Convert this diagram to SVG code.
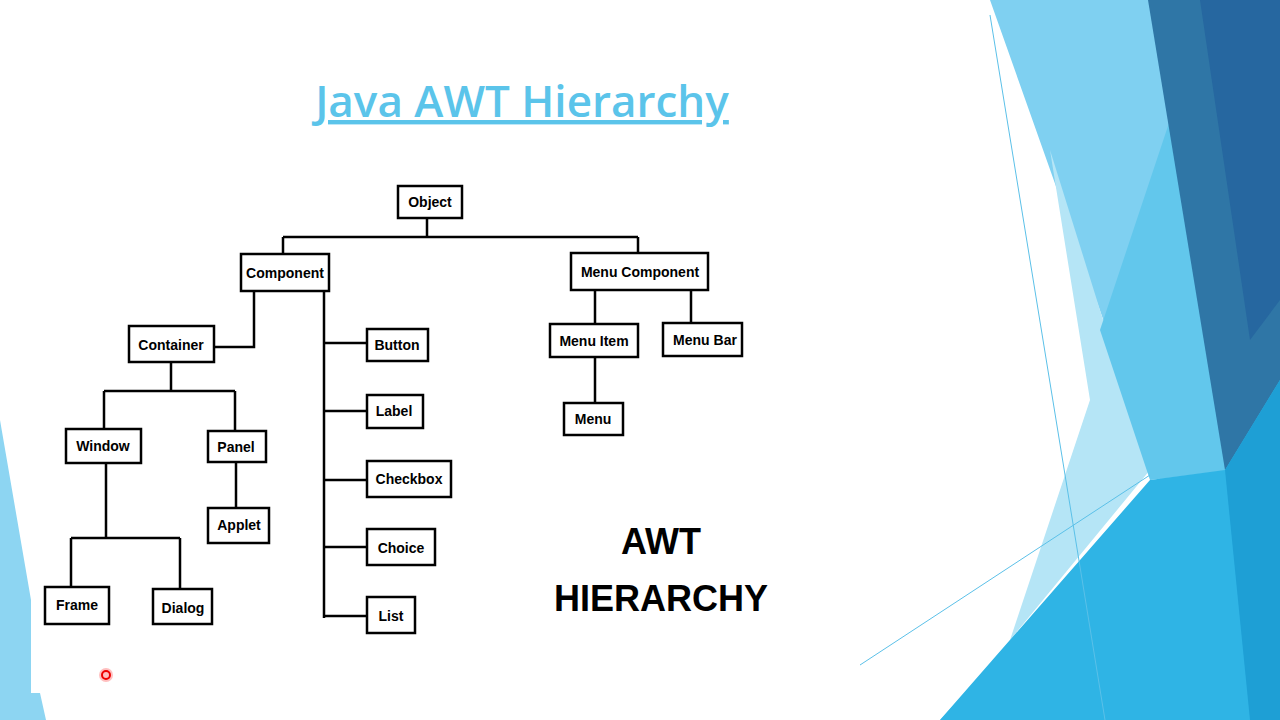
<svg xmlns="http://www.w3.org/2000/svg" width="1280" height="720" viewBox="0 0 1280 720">
<style>
.n rect{fill:#fff;stroke:#000;stroke-width:2.5}
.n text{font-family:"Liberation Sans",Arial,sans-serif;font-weight:bold;font-size:14px;text-anchor:middle;fill:#000}
#connectors path{fill:none;stroke:#000;stroke-width:2.5}
</style>
<rect width="1280" height="720" fill="#fff"/>
<g id="background">
<polygon points="0,420 31,600 31,693 40,693 46,720 0,720" fill="#8dd5f2"/>
<polygon points="990,0 1280,0 1280,720 940,720 1160,480" fill="#7fd0f1"/>
<polygon points="1050,150 1150,470 1010,640 1090,400" fill="#b5e5f6"/>
<polygon points="1190,60 1230,470 1150,480 1100,330" fill="#62c7ec"/>
<polygon points="1148,0 1280,0 1280,410 1225,470" fill="#2f76a6"/>
<polygon points="1200,0 1280,0 1280,300 1250,340" fill="#2667a0"/>
<polygon points="1280,380 1280,720 940,720 1150,480 1225,470" fill="#2fb4e5"/>
<polygon points="1225,470 1280,380 1280,720 1250,720" fill="#1e9fd5"/>
<line x1="990" y1="15" x2="1105" y2="720" stroke="#5bc0e8" stroke-width="1"/>
<line x1="860" y1="665" x2="1150" y2="475" stroke="#5bc0e8" stroke-width="1"/>
</g>
<text x="522" y="117" font-family="'Open Sans',sans-serif" font-weight="600" font-size="44" fill="#5bc4ea" text-anchor="middle" text-decoration="underline">Java AWT Hierarchy</text>
<g id="connectors">
<path d="M427,218V237M283,237H638M283,237V254M638,237V253"/>
<path d="M254,291V347H214"/>
<path d="M324,291V618M324,343H367M324,411H367M324,480H367M324,547H367M324,616H367"/>
<path d="M171,362V391M104,391H235M104,391V429M235,391V431"/>
<path d="M106,463V538M71,538H180M71,538V587M180,538V589"/>
<path d="M236,462V508"/>
<path d="M595,290V324M691,290V323M595,357V403"/>
</g>
<g id="object" class="n"><rect x="398" y="186" width="64" height="32"/><text x="430" y="207">Object</text></g>
<g id="component" class="n"><rect x="241" y="254" width="88" height="37"/><text x="285" y="278">Component</text></g>
<g id="menucomponent" class="n"><rect x="571" y="253" width="137" height="37"/><text x="640" y="277">Menu Component</text></g>
<g id="container" class="n"><rect x="129" y="326" width="85" height="36"/><text x="171" y="350">Container</text></g>
<g id="button" class="n"><rect x="367" y="329" width="61" height="32"/><text x="397" y="350">Button</text></g>
<g id="label" class="n"><rect x="367" y="395" width="56" height="33"/><text x="394" y="416">Label</text></g>
<g id="checkbox" class="n"><rect x="367" y="461" width="84" height="36"/><text x="409" y="484">Checkbox</text></g>
<g id="choice" class="n"><rect x="367" y="529" width="68" height="36"/><text x="401" y="553">Choice</text></g>
<g id="list" class="n"><rect x="367" y="597" width="48" height="36"/><text x="391" y="621">List</text></g>
<g id="window" class="n"><rect x="66" y="429" width="75" height="34"/><text x="103" y="451">Window</text></g>
<g id="panel" class="n"><rect x="208" y="431" width="58" height="31"/><text x="236" y="452">Panel</text></g>
<g id="applet" class="n"><rect x="208" y="508" width="61" height="35"/><text x="239" y="530">Applet</text></g>
<g id="frame" class="n"><rect x="45" y="587" width="64" height="37"/><text x="77" y="610">Frame</text></g>
<g id="dialog" class="n"><rect x="153" y="589" width="59" height="35"/><text x="183" y="613">Dialog</text></g>
<g id="menuitem" class="n"><rect x="550" y="324" width="88" height="33"/><text x="594" y="346">Menu Item</text></g>
<g id="menubar" class="n"><rect x="663" y="323" width="79" height="33"/><text x="705" y="345">Menu Bar</text></g>
<g id="menu" class="n"><rect x="564" y="403" width="59" height="32"/><text x="593" y="424">Menu</text></g>
<text x="661" y="554" font-family="'Liberation Sans',Arial,sans-serif" font-weight="bold" font-size="36" text-anchor="middle">AWT</text>
<text x="661" y="611" font-family="'Liberation Sans',Arial,sans-serif" font-weight="bold" font-size="36" text-anchor="middle">HIERARCHY</text>
<circle cx="106" cy="675" r="7" fill="#ff8080" opacity="0.5"/>
<circle cx="106" cy="675" r="4" fill="none" stroke="#e00" stroke-width="2"/>
</svg>
